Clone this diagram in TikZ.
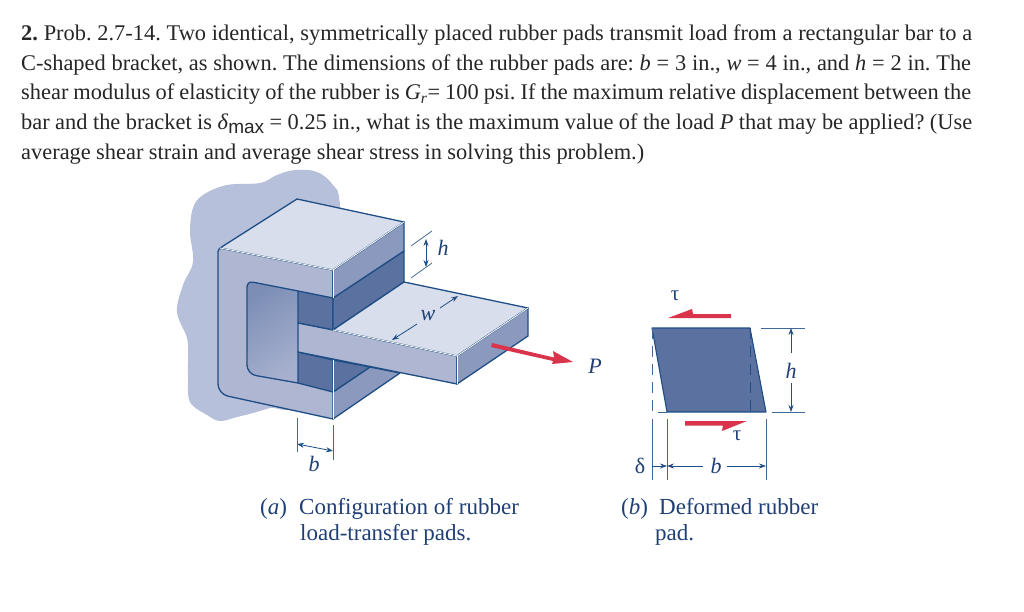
\documentclass[tikz,border=0pt]{standalone}
\usepackage{fontspec}
\setmainfont{Liberation Serif}
\setsansfont{Liberation Sans}
\usepackage{tikz}
\usetikzlibrary{arrows.meta}
\definecolor{edgeblue}{HTML}{1F4E85}
\definecolor{blobblue}{HTML}{B7C0DA}
\definecolor{topblue}{HTML}{D9DEEC}
\definecolor{frontblue}{HTML}{AEB6D2}
\definecolor{sideblue}{HTML}{8A99BD}
\definecolor{padblue}{HTML}{5B719F}
\definecolor{wallblue}{HTML}{7C8EB6}
\definecolor{forcered}{HTML}{D9344C}
\definecolor{textblue}{HTML}{1F3F75}
\tikzset{
  face/.style={draw=edgeblue, line width=1.3pt, line join=round},
  dimline/.style={draw=edgeblue!85, line width=0.8pt},
  dimarrow/.style={draw=edgeblue, line width=0.8pt, {Stealth[length=7pt,width=5pt]}-{Stealth[length=7pt,width=5pt]}},
  onearrow/.style={draw=edgeblue, line width=0.8pt, -{Stealth[length=7pt,width=5pt]}},
  dimlabel/.style={text=textblue, font=\fontsize{22}{22}\selectfont\itshape, inner sep=0pt},
  taulabel/.style={text=textblue, font=\fontsize{21}{21}\selectfont, inner sep=0pt},
  bodytext/.style={anchor=base west, inner sep=0pt, text=black!85, font=\fontsize{22.4}{22.4}\selectfont},
  captext/.style={anchor=base west, inner sep=0pt, text=textblue, font=\fontsize{23}{23}\selectfont},
  whiteedge/.style={draw=white, line width=0.8pt},
}
\newcommand{\ital}[1]{\textit{#1}}
\frenchspacing
\begin{document}
\begin{tikzpicture}[x=1pt,y=-1pt]
\useasboundingbox (0,0) rectangle (1024,612);
% problem statement
\foreach \n/\y/\w/\txt in {
  a/41/951/{\textbf{2.} Prob. 2.7-14. Two identical, symmetrically placed rubber pads transmit load from a rectangular bar to a},
  b/71/950/{C-shaped bracket, as shown. The dimensions of the rubber pads are: \ital{b} = 3 in., \ital{w} = 4 in., and \ital{h} = 2 in. The},
  c/100/950/{shear modulus of elasticity of the rubber is \ital{G\textsubscript{r}}= 100 psi. If the maximum relative displacement between the},
  d/130/951/{bar and the bracket is \ital{δ}{\raisebox{-4pt}{\fontsize{19}{19}\selectfont\sffamily max}} = 0.25 in., what is the maximum value of the load \ital{P} that may be applied? (Use},
  e/160/623/{average shear strain and average shear stress in solving this problem.)}}{
  \node[bodytext] (line\n) at (21,\y) {\hbox to \w pt{\txt}};
}
% wall behind the bracket
\fill[blobblue] plot[smooth cycle, tension=0.6] coordinates {(193,208) (203,195) (227,185) (260,183) (277,175) (295,170) (317,172) (333,185) (340,205) (345,300) (300,400) (270,408) (253,413) (237,417) (220,421) (207,415) (190,402) (188,378) (188,358) (187,338) (177,312) (183,285) (193,262) (190,232)};
% bracket corners
\coordinate (TB) at (297,199);
\coordinate (TR) at (404,222);
\coordinate (TF) at (333,270);
\coordinate (TL) at (220,248);
\coordinate (OT) at (218,247.5);
\coordinate (OB) at (218,394);
\coordinate (SR) at (404,251);
\coordinate (SF) at (333,298);
\coordinate (PR) at (404,282);
\coordinate (PF) at (333,330);
\coordinate (IT) at (298,291);
\coordinate (IL) at (247,281);
\coordinate (IB) at (247,374);
\coordinate (IM) at (298,323);
\coordinate (LT) at (298,352);
\coordinate (LB) at (298,383);
\coordinate (LF) at (333,360);
\coordinate (BI) at (333,392);
\coordinate (BF) at (333,419);
\coordinate (BR) at (400,373);
\coordinate (LR) at (370,367);
% bar corners
\coordinate (EF) at (457,356);
\coordinate (EB) at (457,384);
\coordinate (ER) at (528,308);
\coordinate (ES) at (528,336);
% lower faces first
\path[face, fill=sideblue] (BI) -- (LR) -- (BR) -- (BF) -- cycle;
\path[face, fill=padblue] (LF) -- (LR) -- (BI) -- cycle;
% bracket front with window
\path[face, fill=frontblue] (TF) [rounded corners=4pt] -- (OT) [rounded corners=10pt] -- (OB) [sharp corners] -- (BF) -- cycle;
\shade[top color=wallblue, middle color=wallblue, bottom color=frontblue!85!wallblue, shading angle=35] (IT) [rounded corners=6pt] -- (IL) [rounded corners=9pt] -- (IB) [sharp corners] -- (LB) -- cycle;
\draw[face] (IT) [rounded corners=6pt] -- (IL) [rounded corners=9pt] -- (IB) [sharp corners] -- (LB);
% pads
\path[face, fill=padblue] (IT) -- (SF) -- (PF) -- (IM) -- cycle;
\path[face, fill=padblue] (LT) -- (LF) -- (BI) -- (LB) -- cycle;
\path[face, fill=padblue] (SF) -- (SR) -- (PR) -- (PF) -- cycle;
\path[face, fill=sideblue] (TF) -- (TR) -- (SR) -- (SF) -- cycle;
\path[face, fill=topblue] (TB) -- (TR) -- (TF) -- (TL) -- cycle;
% bar
\path[face, fill=frontblue] (IM) -- (PF) -- (EF) -- (EB) -- (LT) -- cycle;
\path[face, fill=topblue] (PF) -- (PR) -- (ER) -- (EF) -- cycle;
\path[face, fill=sideblue] (EF) -- (ER) -- (ES) -- (EB) -- cycle;
% highlights
\draw[whiteedge] (TL) -- (TF) -- (TR);
\draw[whiteedge] (TF) -- (SF);
\draw[whiteedge] (PF) -- (EF) -- (ER);
\draw[whiteedge] (EF) -- (EB);
\draw[whiteedge] (LF) -- (BI);
\draw[whiteedge] (BI) -- (BF);
% dimensions on the bracket
\draw[dimline] (411,246) -- (432,231);
\draw[dimline] (411,278) -- (432,263);
\coordinate (ha) at (426,239);
\coordinate (hb) at (426,267);
\draw[dimarrow] (ha) -- (hb);
\node[dimlabel] (hlabel) at (443,248) {h};
\coordinate (wa) at (392,340);
\coordinate (wb) at (417,324);
\coordinate (wc) at (440,308);
\coordinate (wd) at (458,296);
\draw[onearrow] (wb) -- (wa);
\draw[onearrow] (wc) -- (wd);
\node[dimlabel] (wlabel) at (428,316) {w};
\draw[dimline] (297,418) -- (297,452);
\draw[dimline] (333,425) -- (333,460);
\coordinate (ba) at (297,444);
\coordinate (bb) at (333,451);
\draw[dimarrow] (ba) -- (bb);
\node[dimlabel] (blabel) at (314,464) {b};
% load
\fill[forcered] (492,343) -- (554,357.5) -- (553,351) -- (573,362) -- (552,364) -- (553,361) -- (491,347) -- cycle;
\node[dimlabel] (plabel) at (595,366) {P};
% deformed pad
\coordinate (QA) at (652,328);
\coordinate (QB) at (750,328);
\coordinate (QC) at (766,412);
\coordinate (QD) at (667,412);
\coordinate (QE) at (652,412);
\coordinate (QF) at (750,412);
\path[draw=edgeblue, line width=1.1pt, fill=padblue, line join=round] (QA) -- (QB) -- (QC) -- (QD) -- cycle;
\draw[dimline, dash pattern=on 11pt off 7pt] (QA) -- (QE) -- (QD);
\draw[edgeblue, line width=0.7pt, dash pattern=on 11pt off 7pt] (QB) -- (QF);
% shear arrows
\fill[forcered] (731,314) -- (693,314) -- (692,309) -- (668,318) -- (731,318) -- cycle;
\fill[forcered] (685,421) -- (747,421) -- (722,431) -- (723,425.5) -- (685,425.5) -- cycle;
\node[taulabel] (tautop) at (675,296) {τ};
\node[taulabel] (taubot) at (737,436) {τ};
% dimensions on the pad
\draw[dimline] (761,328) -- (805,328);
\draw[dimline] (772,412) -- (805,412);
\node[dimlabel] (hpad) at (791,371) {h};
\coordinate (hc) at (791,328);
\coordinate (hd) at (791,412);
\draw[onearrow] (hpad.north |- 0,353) -- (hc);
\draw[onearrow] (hpad.south |- 0,383) -- (hd);
\draw[dimline] (652,419) -- (652,480);
\draw[dimline] (667,419) -- (667,480);
\draw[dimline] (766,419) -- (766,480);
\node[dimlabel, font=\fontsize{22}{22}\selectfont] (dlabel) at (640,466) {δ};
\node[dimlabel] (bpad) at (716,466) {b};
\coordinate (da) at (652,466);
\coordinate (db) at (667,466);
\coordinate (dc) at (703,466);
\coordinate (dd) at (727,466);
\coordinate (de) at (766,466);
\draw[onearrow] (da) -- (db);
\draw[onearrow] (dc) -- (db);
\draw[onearrow] (dd) -- (de);
% captions
\node[captext] (capa) at (260,514) {\makebox[39pt][l]{(\ital{a})}Configuration of rubber};
\node[captext] (capab) at (300,540) {load-transfer pads.};
\node[captext] (capb) at (621,514) {\makebox[38pt][l]{(\ital{b})}Deformed rubber};
\node[captext] (capbb) at (655,540) {pad.};
\end{tikzpicture}
\end{document}
